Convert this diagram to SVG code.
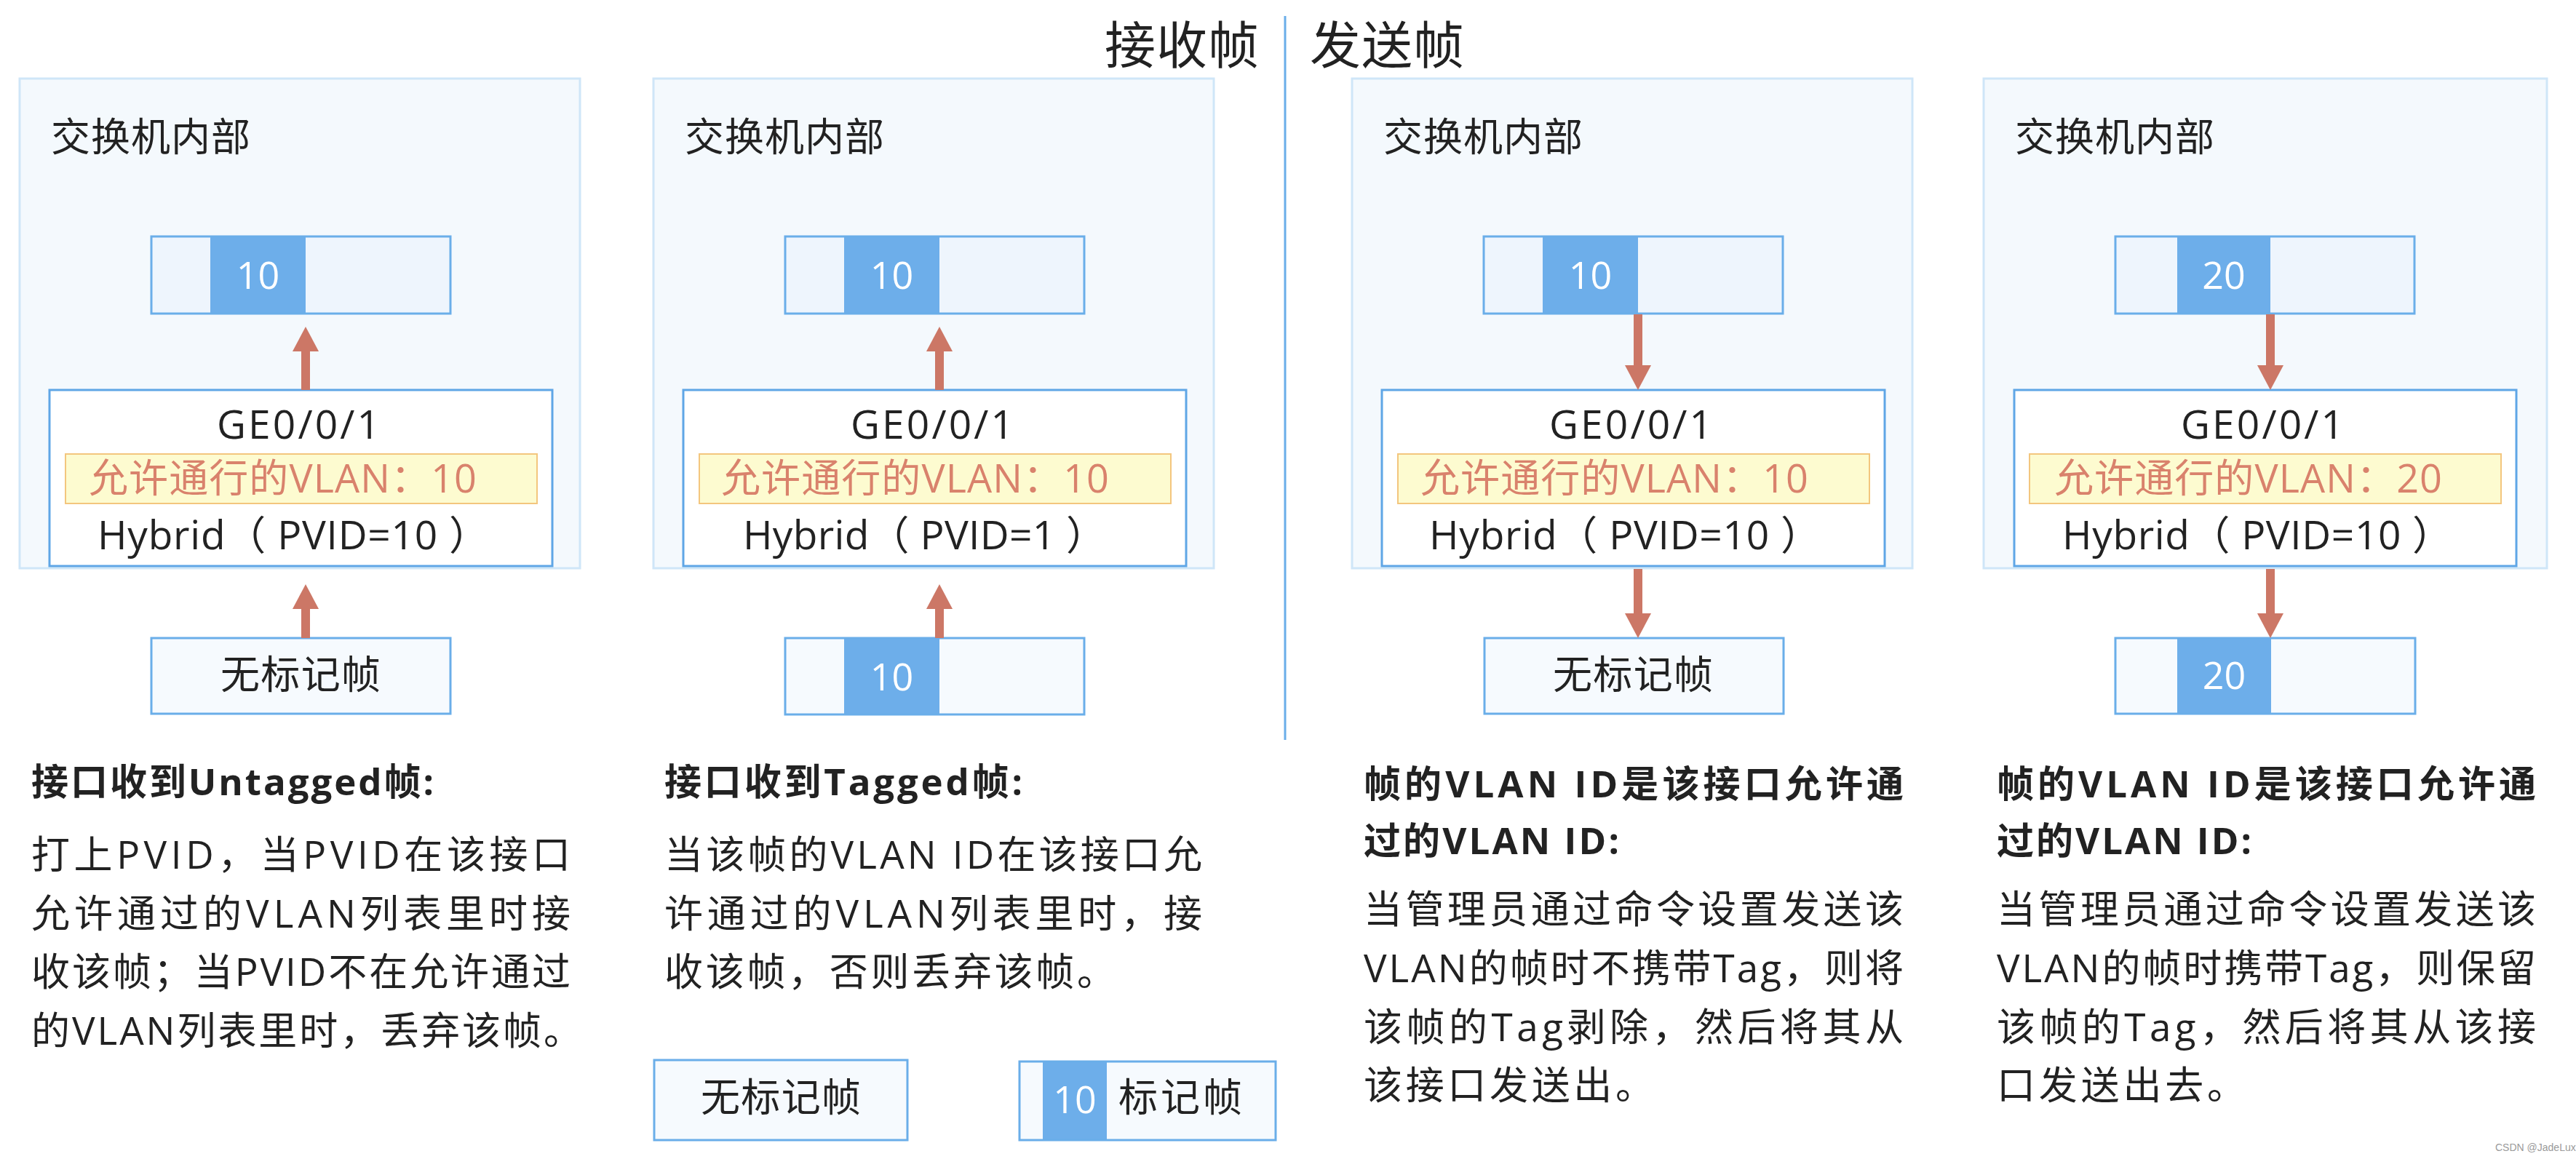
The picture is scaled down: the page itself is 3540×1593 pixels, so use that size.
<svg xmlns="http://www.w3.org/2000/svg" width="3540" height="1593" viewBox="0 0 3540 1593">
<style>
.panel{fill:#f4f9fd;stroke:#cfe6f8;stroke-width:3}
.fbg{fill:#eef5fd}
.fbg2{fill:#f6fafe}
.fout{fill:none;stroke:#6aaee9;stroke-width:3}
.tag{fill:#6daeea}
.port{fill:#ffffff;stroke:#5fa6e6;stroke-width:3}
.allow{fill:#fdfbd0;stroke:#f3c67e;stroke-width:2}
text{font-family:"Open Sans","Noto Sans CJK SC",sans-serif;fill:#222222}
.lbl{font-size:54px}
.title{font-size:70px}
.tagtxt{fill:#ffffff;font-size:52px;text-anchor:middle}
.ge{font-size:55px}
.yl{fill:#d9826c;font-size:54px}
.body{font-size:53px}
.head{font-size:51px;font-weight:bold}
.arrow{stroke:#cc7766;stroke-width:12;fill:none;marker-end:url(#head)}
.wm{font-family:"Liberation Sans",Arial,sans-serif;font-size:14px;fill:#9a9a9a}
</style>
<defs>
<marker id="head" markerUnits="userSpaceOnUse" markerWidth="34" markerHeight="36" viewBox="0 0 34 36" refX="0" refY="18" orient="auto">
<path d="M0,0L34,18L0,36z" fill="#cc7766"/>
</marker>
</defs>
<rect x="0" y="0" width="3540" height="1593" fill="#ffffff"/>

<!-- titles and divider -->
<g id="titles">
<text class="title" x="1518" y="88" textLength="212">接收帧</text>
<text class="title" x="1800" y="88" textLength="212">发送帧</text>
<line x1="1766" y1="22" x2="1766" y2="1017" stroke="#6aaee9" stroke-width="3"/>
</g>

<!-- Panel 1: receive untagged -->
<g id="panel-1" transform="translate(27,0)">
<rect class="panel" x="0" y="108" width="770" height="673"/>
<text class="lbl" x="43" y="208" textLength="274">交换机内部</text>
</g>
<g id="frame-1-in" transform="translate(27,0)">
<rect class="fbg" x="181" y="325" width="411" height="106"/>
<rect class="tag" x="262" y="325" width="131" height="106"/>
<rect class="fout" x="181" y="325" width="411" height="106"/>
<text class="tagtxt" x="327.5" y="397">10</text>
</g>
<g id="port-1" transform="translate(27,0)">
<rect class="port" x="41" y="536" width="691" height="242"/>
<rect class="allow" x="63" y="624" width="648" height="68"/>
<text class="ge" x="271" y="603" textLength="224">GE0/0/1</text>
<text class="yl" x="95" y="677" textLength="533">允许通行的VLAN：10</text>
<text class="ge" x="107" y="755" textLength="538">Hybrid（ PVID=10 ）</text>
</g>
<g id="frame-1-out" transform="translate(27,0)">
<rect class="fbg2" x="181" y="877" width="411" height="104"/>
<rect class="fout" x="181" y="877" width="411" height="104"/>
<text class="lbl" x="386" y="947" text-anchor="middle" textLength="220">无标记帧</text>
</g>
<g id="text-1">
<text class="head" x="43" y="1093" textLength="553">接口收到Untagged帧:</text>
<text class="body" x="43" y="1194" textLength="741">打上PVID，当PVID在该接口</text>
<text class="body" x="43" y="1275" textLength="741">允许通过的VLAN列表里时接</text>
<text class="body" x="43" y="1355" textLength="741">收该帧；当PVID不在允许通过</text>
<text class="body" x="43" y="1436" textLength="757">的VLAN列表里时，丢弃该帧。</text>
</g>

<!-- Panel 2: receive tagged -->
<g id="panel-2" transform="translate(898,0)">
<rect class="panel" x="0" y="108" width="770" height="673"/>
<text class="lbl" x="43" y="208" textLength="274">交换机内部</text>
</g>
<g id="frame-2-in" transform="translate(898,0)">
<rect class="fbg" x="181" y="325" width="411" height="106"/>
<rect class="tag" x="262" y="325" width="131" height="106"/>
<rect class="fout" x="181" y="325" width="411" height="106"/>
<text class="tagtxt" x="327.5" y="397">10</text>
</g>
<g id="port-2" transform="translate(898,0)">
<rect class="port" x="41" y="536" width="691" height="242"/>
<rect class="allow" x="63" y="624" width="648" height="68"/>
<text class="ge" x="271" y="603" textLength="224">GE0/0/1</text>
<text class="yl" x="93" y="677" textLength="533">允许通行的VLAN：10</text>
<text class="ge" x="123" y="755" textLength="499">Hybrid（ PVID=1 ）</text>
</g>
<g id="frame-2-out" transform="translate(898,0)">
<rect class="fbg2" x="181" y="877" width="411" height="105"/>
<rect class="tag" x="262" y="877" width="131" height="105"/>
<rect class="fout" x="181" y="877" width="411" height="105"/>
<text class="tagtxt" x="327.5" y="949">10</text>
</g>
<g id="text-2">
<text class="head" x="913" y="1093" textLength="492">接口收到Tagged帧:</text>
<text class="body" x="913" y="1194" textLength="739">当该帧的VLAN ID在该接口允</text>
<text class="body" x="913" y="1275" textLength="739">许通过的VLAN列表里时，接</text>
<text class="body" x="913" y="1355" textLength="620">收该帧，否则丢弃该帧。</text>
</g>

<!-- Legend -->
<g id="legend-untagged">
<rect class="fbg2" x="899" y="1457" width="348" height="110"/>
<rect class="fout" x="899" y="1457" width="348" height="110"/>
<text class="lbl" x="1073" y="1528" text-anchor="middle" textLength="220">无标记帧</text>
</g>
<g id="legend-tagged">
<rect class="fbg2" x="1401" y="1459" width="352" height="108"/>
<rect class="tag" x="1433" y="1459" width="88" height="108"/>
<rect class="fout" x="1401" y="1459" width="352" height="108"/>
<text class="tagtxt" x="1477" y="1530">10</text>
<text class="lbl" x="1537" y="1528" textLength="170">标记帧</text>
</g>

<!-- Panel 3: send, untag -->
<g id="panel-3" transform="translate(1858,0)">
<rect class="panel" x="0" y="108" width="770" height="673"/>
<text class="lbl" x="43" y="208" textLength="274">交换机内部</text>
</g>
<g id="frame-3-in" transform="translate(1858,0)">
<rect class="fbg" x="181" y="325" width="411" height="106"/>
<rect class="tag" x="262" y="325" width="131" height="106"/>
<rect class="fout" x="181" y="325" width="411" height="106"/>
<text class="tagtxt" x="327.5" y="397">10</text>
</g>
<g id="port-3" transform="translate(1858,0)">
<rect class="port" x="41" y="536" width="691" height="242"/>
<rect class="allow" x="63" y="624" width="648" height="68"/>
<text class="ge" x="271" y="603" textLength="224">GE0/0/1</text>
<text class="yl" x="94" y="677" textLength="533">允许通行的VLAN：10</text>
<text class="ge" x="106" y="755" textLength="538">Hybrid（ PVID=10 ）</text>
</g>
<g id="frame-3-out" transform="translate(1858,0)">
<rect class="fbg2" x="182" y="877" width="411" height="104"/>
<rect class="fout" x="182" y="877" width="411" height="104"/>
<text class="lbl" x="386" y="947" text-anchor="middle" textLength="220">无标记帧</text>
</g>
<g id="text-3">
<text class="head" x="1874" y="1096" textLength="742">帧的VLAN ID是该接口允许通</text>
<text class="head" x="1874" y="1174" textLength="351">过的VLAN ID:</text>
<text class="body" x="1874" y="1269" textLength="742">当管理员通过命令设置发送该</text>
<text class="body" x="1874" y="1350" textLength="742">VLAN的帧时不携带Tag，则将</text>
<text class="body" x="1874" y="1431" textLength="742">该帧的Tag剥除，然后将其从</text>
<text class="body" x="1874" y="1511" textLength="399">该接口发送出。</text>
</g>

<!-- Panel 4: send, keep tag -->
<g id="panel-4" transform="translate(2726,0)">
<rect class="panel" x="0" y="108" width="774" height="673"/>
<text class="lbl" x="43" y="208" textLength="274">交换机内部</text>
</g>
<g id="frame-4-in" transform="translate(2726,0)">
<rect class="fbg" x="181" y="325" width="411" height="106"/>
<rect class="tag" x="266" y="325" width="128" height="106"/>
<rect class="fout" x="181" y="325" width="411" height="106"/>
<text class="tagtxt" x="330" y="397">20</text>
</g>
<g id="port-4" transform="translate(2726,0)">
<rect class="port" x="42" y="536" width="690" height="242"/>
<rect class="allow" x="63" y="624" width="648" height="68"/>
<text class="ge" x="271" y="603" textLength="224">GE0/0/1</text>
<text class="yl" x="97" y="677" textLength="533">允许通行的VLAN：20</text>
<text class="ge" x="108" y="755" textLength="536">Hybrid（ PVID=10 ）</text>
</g>
<g id="frame-4-out" transform="translate(2726,0)">
<rect class="fbg2" x="181" y="877" width="412" height="104"/>
<rect class="tag" x="266" y="877" width="129" height="104"/>
<rect class="fout" x="181" y="877" width="412" height="104"/>
<text class="tagtxt" x="330.5" y="947">20</text>
</g>
<g id="text-4">
<text class="head" x="2744" y="1096" textLength="741">帧的VLAN ID是该接口允许通</text>
<text class="head" x="2744" y="1174" textLength="350">过的VLAN ID:</text>
<text class="body" x="2744" y="1269" textLength="741">当管理员通过命令设置发送该</text>
<text class="body" x="2744" y="1350" textLength="741">VLAN的帧时携带Tag，则保留</text>
<text class="body" x="2744" y="1431" textLength="741">该帧的Tag，然后将其从该接</text>
<text class="body" x="2744" y="1511" textLength="342">口发送出去。</text>
</g>

<!-- Connectors -->
<g id="connectors">
<line class="arrow" x1="420" y1="536" x2="420" y2="483"/>
<line class="arrow" x1="420" y1="877" x2="420" y2="837"/>
<line class="arrow" x1="1291" y1="536" x2="1291" y2="483"/>
<line class="arrow" x1="1291" y1="877" x2="1291" y2="837"/>
<line class="arrow" x1="2251" y1="432" x2="2251" y2="502"/>
<line class="arrow" x1="2251" y1="782" x2="2251" y2="843"/>
<line class="arrow" x1="3120" y1="432" x2="3120" y2="502"/>
<line class="arrow" x1="3120" y1="782" x2="3120" y2="843"/>
</g>

<text class="wm" x="3429" y="1582">CSDN @JadeLux</text>
</svg>
